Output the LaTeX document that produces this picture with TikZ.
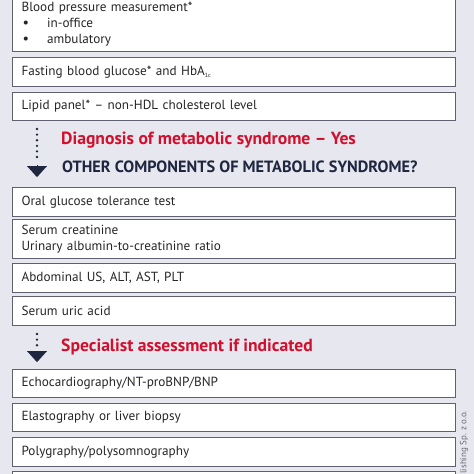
\documentclass[tikz,border=0pt]{standalone}
\usepackage{fontspec}
\setmainfont{PT Sans}
\usetikzlibrary{arrows.meta}
\definecolor{bgc}{HTML}{E7E7EF}
\definecolor{edgec}{HTML}{5F6070}
\definecolor{redc}{HTML}{D2102E}
\definecolor{navyc}{HTML}{1E2640}
\definecolor{wmc}{HTML}{6A6A78}
\tikzset{
  box/.style={draw=edgec, line width=1.1pt, fill=white, anchor=north west,
    minimum width=443pt, text width=425pt, inner xsep=9pt, inner ysep=2pt,
    align=left, font=\fontsize{13.2}{16}\selectfont, text=black!85},
  redlbl/.style={anchor=west, text=redc, font=\fontsize{17.6}{20}\selectfont\bfseries, inner sep=0pt},
  navylbl/.style={anchor=west, text=navyc, font=\fontsize{16.3}{18}\selectfont\bfseries, inner sep=0pt},
  dotline/.style={navyc, line width=2.6pt, line cap=round, dash pattern=on 0pt off 5.6pt},
  headarrow/.style={navyc, line width=0.1pt, -{Triangle[width=20pt,length=11pt]}}
}
\begin{document}
\begin{tikzpicture}[x=1pt,y=-1pt]
\useasboundingbox (0,0) rectangle (474,474);
\fill[bgc] (0,0) rectangle (474,474);
\clip (0,0) rectangle (474,474);
% group 1
\node[box, minimum height=54pt] (b1) at (12,-3) {Blood pressure measurement*\\
  \hspace*{1pt}{\Large\textbullet}\hspace{18pt}in-office\\
  \hspace*{1pt}{\Large\textbullet}\hspace{18pt}ambulatory};
\node[box, minimum height=29pt] (b2) at (12,57) {Fasting blood glucose* and HbA\raisebox{-2.5pt}{\fontsize{6}{6}\selectfont 1c}};
\node[box, minimum height=28pt] (b3) at (12,92) {Lipid panel* -- non-HDL cholesterol level};
% transition 1
\node[redlbl] (t1) at (61,140) {Diagnosis of metabolic syndrome -- Yes};
\node[navylbl] (t2) at (62,167) {OTHER COMPONENTS OF METABOLIC SYNDROME?};
% group 2
\node[box, minimum height=29pt] (b4) at (12,187) {Oral glucose tolerance test};
\node[box, minimum height=39pt] (b5) at (12,219) {Serum creatinine\\Urinary albumin-to-creatinine ratio};
\node[box, minimum height=29pt] (b6) at (12,263) {Abdominal US, ALT, AST, PLT};
\node[box, minimum height=29pt] (b7) at (12,296) {Serum uric acid};
% transition 2
\node[redlbl] (t3) at (61,347) {Specialist assessment if indicated};
% group 3
\node[box, minimum height=28pt] (b8) at (12,369) {Echocardiography/NT-proBNP/BNP};
\node[box, minimum height=28pt] (b9) at (12,403) {Elastography or liver biopsy};
\node[box, minimum height=29pt] (b10) at (12,437) {Polygraphy/polysomnography};
\node[box, minimum height=29pt] (b11) at (12,471) {};
% arrows
\coordinate (a1s) at (37,129);
\coordinate (a1e) at (37,162);
\coordinate (a1t) at (37,177);
\draw[dotline] (a1s) -- (a1e);
\draw[headarrow] (37,165) -- (a1t);
\coordinate (a2s) at (37,334);
\coordinate (a2e) at (37,348);
\coordinate (a2t) at (37,362);
\draw[dotline] (a2s) -- (a2e);
\draw[headarrow] (37,351) -- (a2t);
% watermark
\node[rotate=90, anchor=west, text=wmc, font=\fontsize{9}{10}\selectfont, inner sep=0pt] (wm) at (464,474) {lishing Sp. z o.o.};
\end{tikzpicture}
\end{document}
